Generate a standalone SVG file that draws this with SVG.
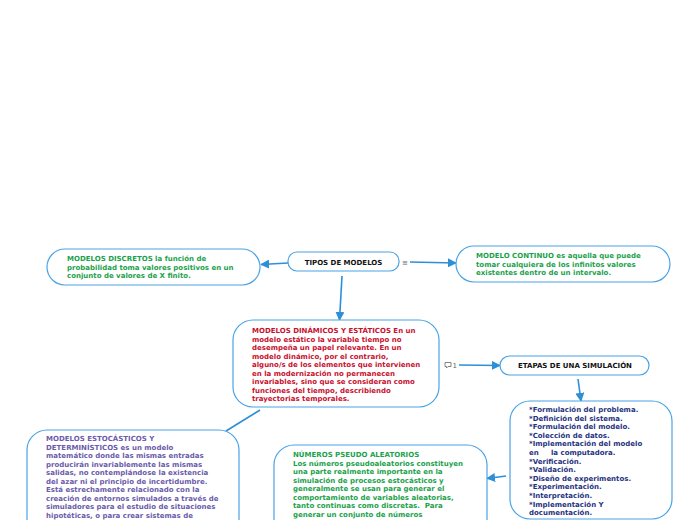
<svg xmlns="http://www.w3.org/2000/svg" width="696" height="520" viewBox="0 0 696 520">
<defs>
<marker id="ah" viewBox="0 0 10 10" refX="9" refY="5" markerWidth="9" markerHeight="9" markerUnits="userSpaceOnUse" orient="auto">
<path d="M0,0 L10,5 L0,10 z" fill="#2d8fd8"/>
</marker>
<style>
.box{fill:#fff;stroke:#4aa3e6;stroke-width:1.2}
.c{fill:none;stroke:#2d8fd8;stroke-width:1.6}
text{font-family:"DejaVu Sans","Liberation Sans",sans-serif;font-size:7px;font-weight:bold}
.t{fill:#111;text-anchor:middle}
.g{fill:#1aa24b}
.r{fill:#c8102e}
.p{fill:#6b5bab}
.n{fill:#1f3380}
.i{fill:#666;font-weight:normal}
</style>
</defs>
<rect width="696" height="520" fill="#fff"/>
<g id="connectors">
<path class="c" d="M288,263 L261,264.5" marker-end="url(#ah)"/>
<path class="c" d="M410,262 L456,263" marker-end="url(#ah)"/>
<path class="c" d="M342,276 L339.5,320" marker-end="url(#ah)"/>
<path class="c" d="M260,410 L226,431"/>
<path class="c" d="M459,365 L500,365.5" marker-end="url(#ah)"/>
<path class="c" d="M578,379 L581,401" marker-end="url(#ah)"/>
<path class="c" d="M506,476 L487,478.5" marker-end="url(#ah)"/>
</g>
<g id="tipos">
<rect class="box" x="288" y="252" width="111" height="19" rx="9"/>
<text class="t" x="343.5" y="264.5">TIPOS DE MODELOS</text>
<text class="i" x="402" y="264.5">≡</text>
</g>
<g id="discretos">
<rect class="box" x="47" y="249" width="213" height="36" rx="18"/>
<text class="g"><tspan x="67" y="261">MODELOS DISCRETOS la función de</tspan><tspan x="67" y="269.5">probabilidad toma valores positivos en un</tspan><tspan x="67" y="278">conjunto de valores de X finito.</tspan></text>
</g>
<g id="continuo">
<rect class="box" x="456" y="246" width="214" height="36" rx="18"/>
<text class="g"><tspan x="476" y="258">MODELO CONTINUO es aquella que puede</tspan><tspan x="476" y="266.5">tomar cualquiera de los infinitos valores</tspan><tspan x="476" y="275">existentes dentro de un intervalo.</tspan></text>
</g>
<g id="dinamicos">
<rect class="box" x="233" y="320" width="206" height="87" rx="20"/>
<text class="r"><tspan x="252" y="333">MODELOS DINÁMICOS Y ESTÁTICOS En un</tspan><tspan x="252" y="341.5">modelo estático la variable tiempo no</tspan><tspan x="252" y="350">desempeña un papel relevante. En un</tspan><tspan x="252" y="358.5">modelo dinámico, por el contrario,</tspan><tspan x="252" y="367">alguno/s de los elementos que intervienen</tspan><tspan x="252" y="375.5">en la modernización no permanecen</tspan><tspan x="252" y="384">invariables, sino que se consideran como</tspan><tspan x="252" y="392.5">funciones del tiempo, describiendo</tspan><tspan x="252" y="401">trayectorias temporales.</tspan></text>
<path d="M445,362.5 h6 v4 h-3 l-1.5,1.5 v-1.5 h-1.5 z" fill="none" stroke="#666" stroke-width="0.8"/>
<text class="i" x="452.5" y="367.5">1</text>
</g>
<g id="etapas">
<rect class="box" x="500" y="356" width="149" height="19" rx="9.5"/>
<text class="t" x="575" y="368">ETAPAS DE UNA SIMULACIÓN</text>
</g>
<g id="pasos">
<rect class="box" x="510" y="401" width="162" height="118" rx="20"/>
<text class="n"><tspan x="529" y="412">*Formulación del problema.</tspan><tspan x="529" y="420.6">*Definición del sistema.</tspan><tspan x="529" y="429.2">*Formulación del modelo.</tspan><tspan x="529" y="437.8">*Colección de datos.</tspan><tspan x="529" y="446.4">*Implementación del modelo</tspan><tspan x="529" y="455" xml:space="preserve">en     la computadora.</tspan><tspan x="529" y="463.6">*Verificación.</tspan><tspan x="529" y="472.2">*Validación.</tspan><tspan x="529" y="480.8">*Diseño de experimentos.</tspan><tspan x="529" y="489.4">*Experimentación.</tspan><tspan x="529" y="498">*Interpretación.</tspan><tspan x="529" y="506.6">*Implementación Y</tspan><tspan x="529" y="515.2">documentación.</tspan></text>
</g>
<g id="estocasticos">
<rect class="box" x="27" y="430" width="212" height="110" rx="20"/>
<text class="p"><tspan x="46" y="441">MODELOS ESTOCÁSTICOS Y</tspan><tspan x="46" y="449.5">DETERMINÍSTICOS es un modelo</tspan><tspan x="46" y="458">matemático donde las mismas entradas</tspan><tspan x="46" y="466.5">producirán invariablemente las mismas</tspan><tspan x="46" y="475">salidas, no contemplándose la existencia</tspan><tspan x="46" y="483.5">del azar ni el principio de incertidumbre.</tspan><tspan x="46" y="492">Está estrechamente relacionado con la</tspan><tspan x="46" y="500.5">creación de entornos simulados a través de</tspan><tspan x="46" y="509">simuladores para el estudio de situaciones</tspan><tspan x="46" y="517.5">hipotéticas, o para crear sistemas de</tspan></text>
</g>
<g id="numeros">
<rect class="box" x="274" y="445" width="213" height="100" rx="20"/>
<text class="g"><tspan x="293" y="457">NÚMEROS PSEUDO ALEATORIOS</tspan><tspan x="293" y="465.5">Los números pseudoaleatorios constituyen</tspan><tspan x="293" y="474">una parte realmente importante en la</tspan><tspan x="293" y="482.5">simulación de procesos estocásticos y</tspan><tspan x="293" y="491">generalmente se usan para generar el</tspan><tspan x="293" y="499.5">comportamiento de variables aleatorias,</tspan><tspan x="293" y="508" xml:space="preserve">tanto continuas como discretas.  Para</tspan><tspan x="293" y="516.5">generar un conjunto de números</tspan></text>
</g>
</svg>
